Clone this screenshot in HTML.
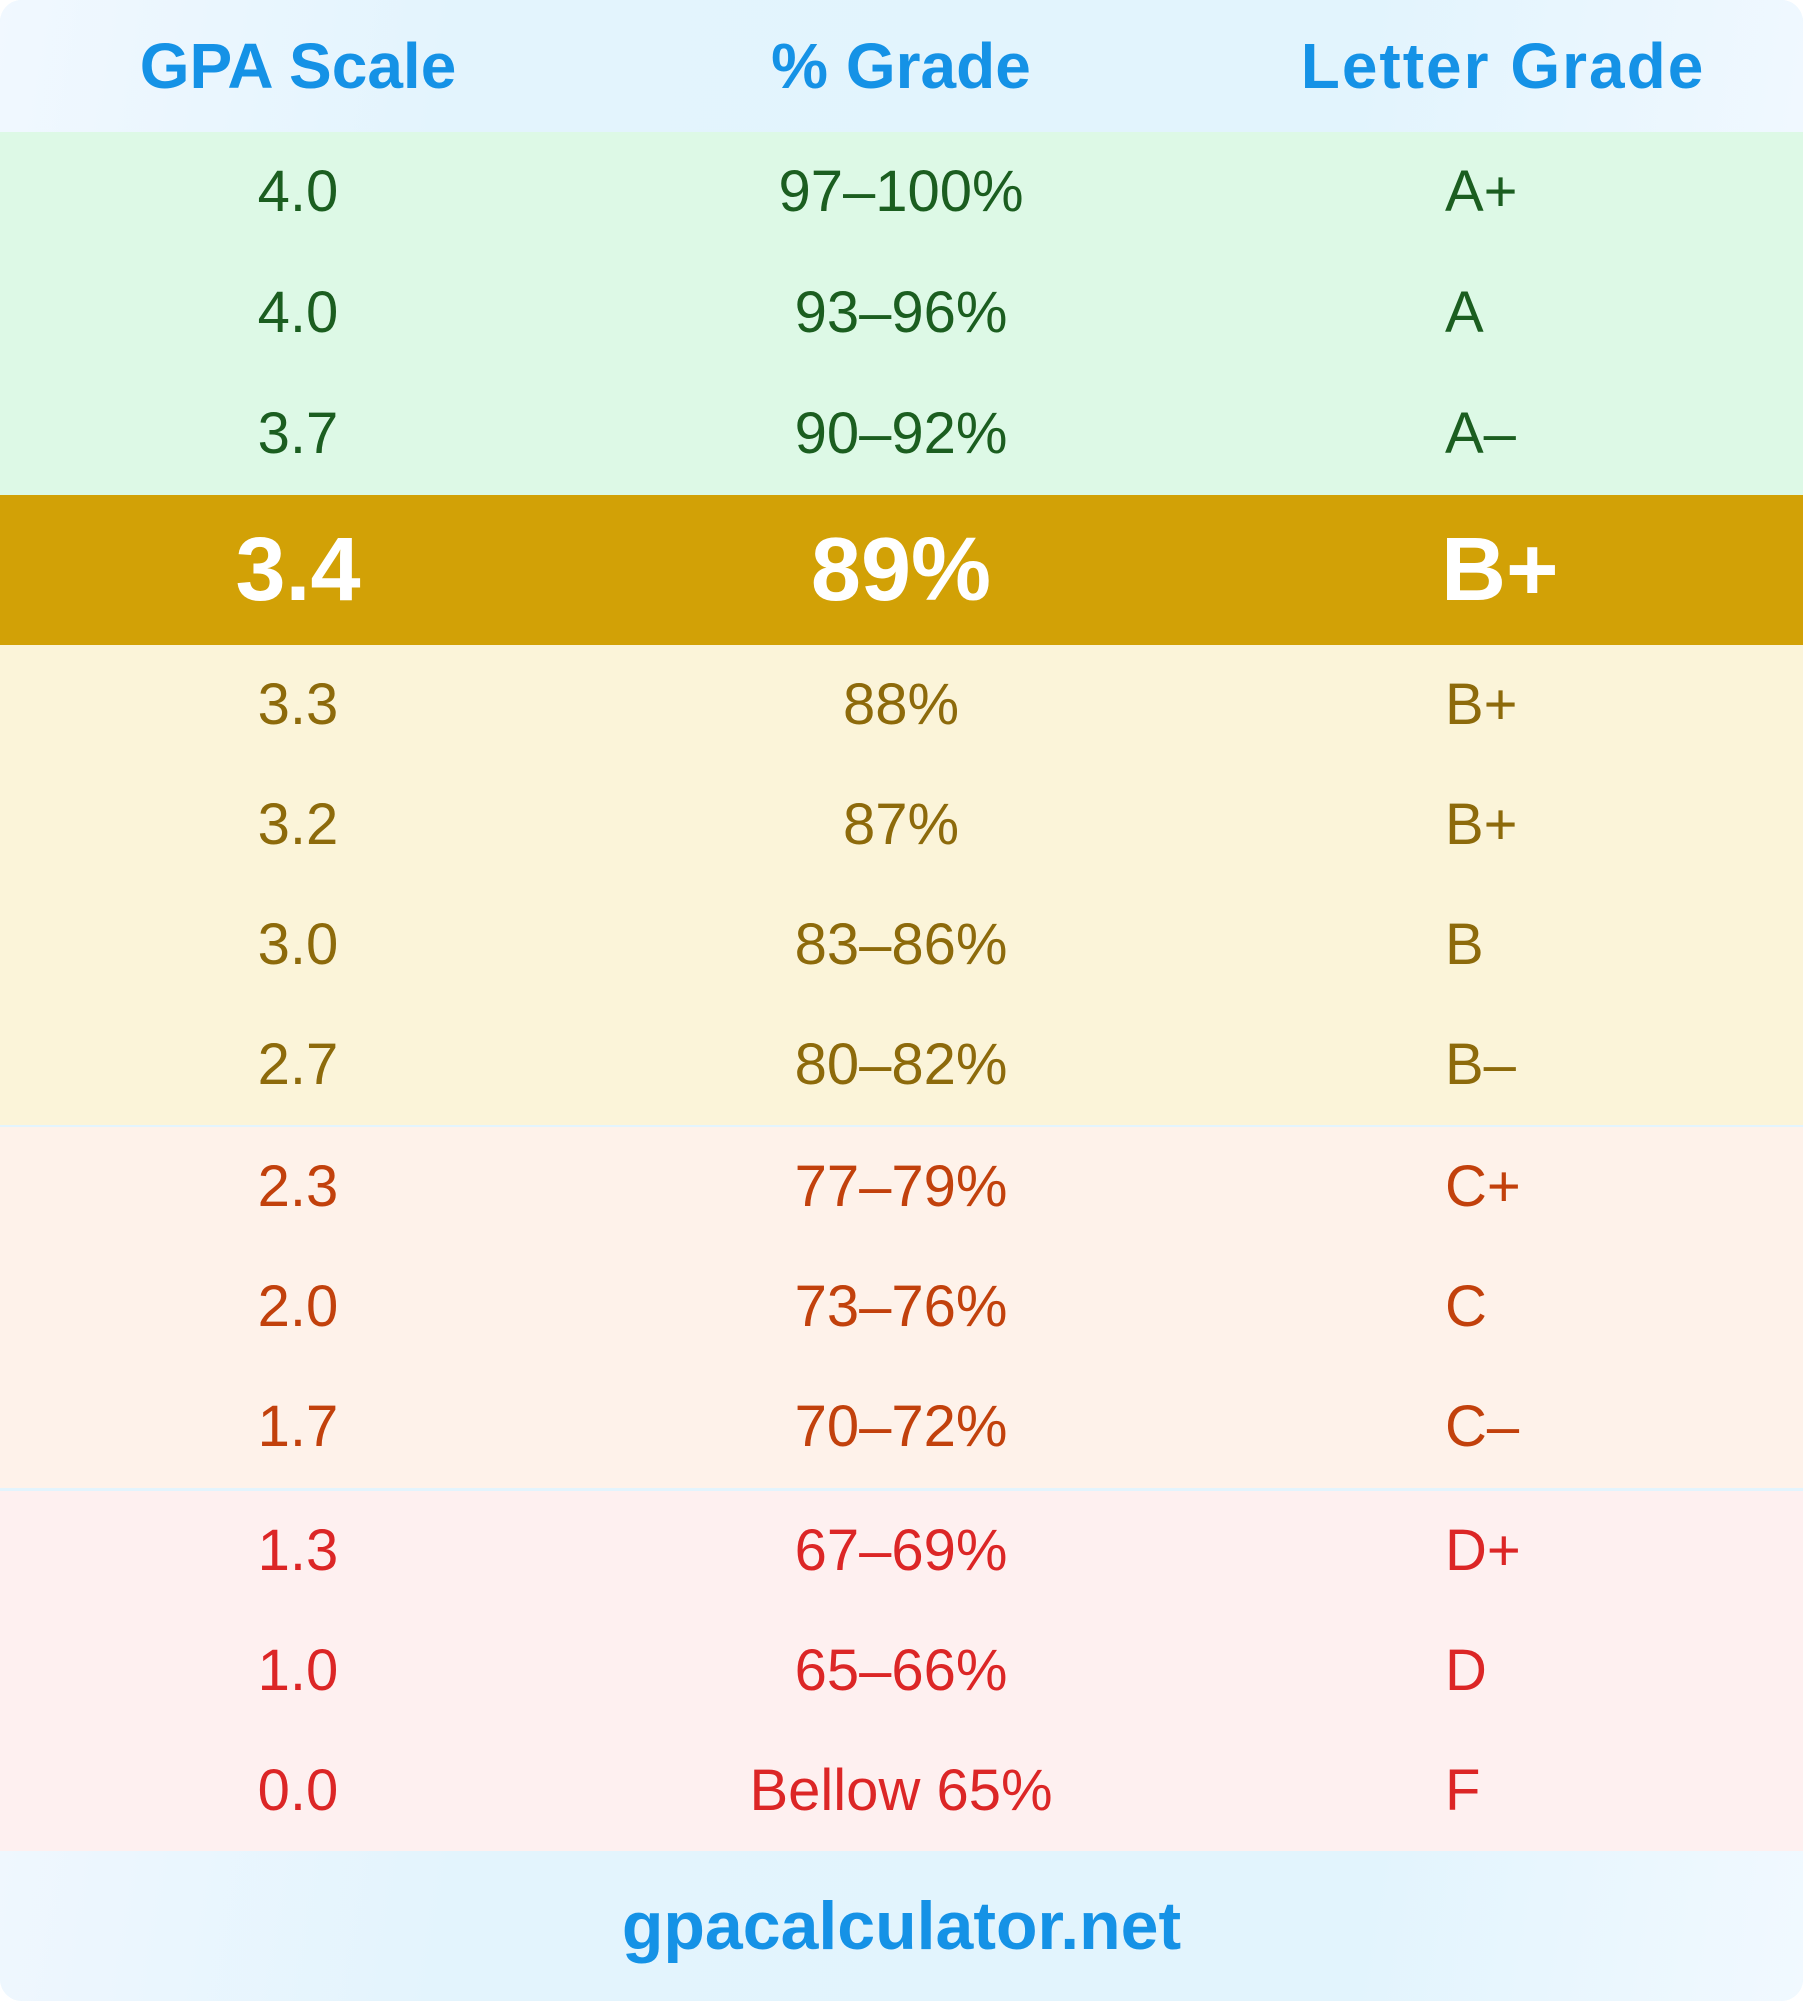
<!DOCTYPE html>
<html>
<head>
<meta charset="utf-8">
<style>
  html, body { margin:0; padding:0; background:#ffffff; }
  body { width:1803px; height:2001px; position:relative; overflow:hidden; font-family:"Liberation Sans", sans-serif; }
  .card { position:absolute; left:0; top:0; width:1803px; height:2001px; border-radius:22px; overflow:hidden; background:#e3f4fd; }
  .band { position:absolute; left:0; width:1803px; }
  .hdr { top:0; height:132px; background:linear-gradient(100deg, #f1f8ff 0%, #e3f4fd 25%, #e2f4fd 75%, #f0f8ff 100%); }
  .ftr { top:1851px; height:150px; background:linear-gradient(100deg, #eff7fe 0%, #e3f4fd 25%, #e2f4fd 75%, #f1f9ff 100%); }
  .green { top:132px; height:363px; background:#ddf9e6; }
  .gold { top:495px; height:150px; background:#d2a106; }
  .yellow { top:645px; height:480px; background:#fbf4d9; }
  .orange { top:1127px; height:361px; background:#fef2ea; }
  .red { top:1491px; height:360px; background:#fef0f0; }
  .row { position:absolute; left:0; width:1803px; height:120px; line-height:120px; font-size:58px; }
  .c1, .c2, .c3 { position:absolute; top:0; white-space:nowrap; }
  .c1 { left:98px; width:400px; text-align:center; }
  .c2 { left:601px; width:600px; text-align:center; }
  .c3 { left:1445px; text-align:left; }
  .h .c3 { left:1203px; width:600px; text-align:center; letter-spacing:2px; }
  .h { top:6px; height:120px; font-size:64px; font-weight:bold; color:#1592e6; }
  .g { color:#1b5e20; }
  .y { color:#8d6a0b; }
  .o { color:#c2410c; }
  .r { color:#dc2626; }
  .big { height:150px; line-height:150px; font-size:90px; font-weight:bold; color:#ffffff; }
  .big .c3 { left:1441px; }
  .site { position:absolute; left:0; top:1851px; width:1803px; height:150px; line-height:150px; text-align:center; font-size:68px; font-weight:bold; color:#1592e6; }
</style>
</head>
<body>
<div class="card">
  <div class="band hdr"></div>
  <div class="band green"></div>
  <div class="band gold"></div>
  <div class="band yellow"></div>
  <div class="band orange"></div>
  <div class="band red"></div>
  <div class="band ftr"></div>

  <div class="row h"><span class="c1">GPA Scale</span><span class="c2">% Grade</span><span class="c3">Letter Grade</span></div>

  <div class="row g" style="top:132px"><span class="c1">4.0</span><span class="c2">97–100%</span><span class="c3">A+</span></div>
  <div class="row g" style="top:253px"><span class="c1">4.0</span><span class="c2">93–96%</span><span class="c3">A</span></div>
  <div class="row g" style="top:374px"><span class="c1">3.7</span><span class="c2">90–92%</span><span class="c3">A–</span></div>

  <div class="row big" style="top:495px"><span class="c1">3.4</span><span class="c2">89%</span><span class="c3">B+</span></div>

  <div class="row y" style="top:645px"><span class="c1">3.3</span><span class="c2">88%</span><span class="c3">B+</span></div>
  <div class="row y" style="top:765px"><span class="c1">3.2</span><span class="c2">87%</span><span class="c3">B+</span></div>
  <div class="row y" style="top:885px"><span class="c1">3.0</span><span class="c2">83–86%</span><span class="c3">B</span></div>
  <div class="row y" style="top:1005px"><span class="c1">2.7</span><span class="c2">80–82%</span><span class="c3">B–</span></div>

  <div class="row o" style="top:1127px"><span class="c1">2.3</span><span class="c2">77–79%</span><span class="c3">C+</span></div>
  <div class="row o" style="top:1247px"><span class="c1">2.0</span><span class="c2">73–76%</span><span class="c3">C</span></div>
  <div class="row o" style="top:1367px"><span class="c1">1.7</span><span class="c2">70–72%</span><span class="c3">C–</span></div>

  <div class="row r" style="top:1491px"><span class="c1">1.3</span><span class="c2">67–69%</span><span class="c3">D+</span></div>
  <div class="row r" style="top:1611px"><span class="c1">1.0</span><span class="c2">65–66%</span><span class="c3">D</span></div>
  <div class="row r" style="top:1731px"><span class="c1">0.0</span><span class="c2">Bellow 65%</span><span class="c3">F</span></div>

  <div class="site">gpacalculator.net</div>
</div>
</body>
</html>
